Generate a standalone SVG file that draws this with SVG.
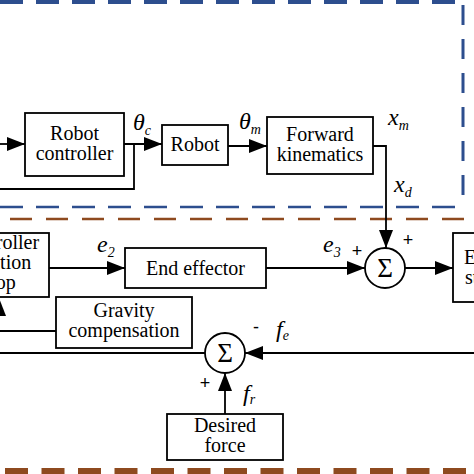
<svg xmlns="http://www.w3.org/2000/svg" width="474" height="474" viewBox="0 0 474 474">
<style>
.box{fill:#fff;stroke:#000;stroke-width:1.8}
.ln{fill:none;stroke:#000;stroke-width:1.8}
.t{font-family:'Liberation Serif','Times New Roman',serif;font-size:20px;text-anchor:middle;fill:#000}
.m{font-family:'Liberation Serif','Times New Roman',serif;font-style:italic;font-size:24px;fill:#000}
.s{font-size:14px}
.pm{font-family:'Liberation Sans',Arial,sans-serif;font-size:18px;text-anchor:middle;fill:#000}
.sig{font-family:'Liberation Serif','Times New Roman',serif;font-size:27px;text-anchor:middle;fill:#000}
.blue{fill:none;stroke:#2d4e8e;stroke-dasharray:23 13}
.brown{fill:none;stroke:#8e4a1f;stroke-dasharray:23 13}
</style>
<defs>
<marker id="ah" markerUnits="userSpaceOnUse" markerWidth="20" markerHeight="14" refX="18" refY="7" orient="auto">
<path d="M0,0 L18,7 L0,14 Z" fill="#000"/>
</marker>
</defs>
<rect width="474" height="474" fill="#fff"/>
<g id="regions">
<path class="blue" d="M0,1.5 H463" stroke-width="5"/>
<path class="blue" d="M463,5 V203" stroke-width="3" style="stroke-dasharray:20 14"/>
<path class="blue" d="M0,207 H463" stroke-width="2.5"/>
<path class="brown" d="M0,219 H474" stroke-width="2.5" style="stroke-dasharray:22 14;stroke-dashoffset:-10"/>
<path class="brown" d="M5,471 H474" stroke-width="6" style="stroke-dasharray:23 13.5"/>
</g>
<g id="connectors">
<path class="ln" d="M0,144 H25" marker-end="url(#ah)"/>
<path class="ln" d="M124,144 H162" marker-end="url(#ah)"/>
<path class="ln" d="M134,144 V189 H0"/>
<path class="ln" d="M228,146 H267" marker-end="url(#ah)"/>
<path class="ln" d="M373,146 H386 V248" marker-end="url(#ah)"/>
<path class="ln" d="M49,268 H125" marker-end="url(#ah)"/>
<path class="ln" d="M266,268 H365" marker-end="url(#ah)"/>
<path class="ln" d="M405,268 H453" marker-end="url(#ah)"/>
<path class="ln" d="M-1,331 V298" marker-end="url(#ah)"/>
<path class="ln" d="M56,331 H0"/>
<path class="ln" d="M205,353 H0"/>
<path class="ln" d="M474,353 H245" marker-end="url(#ah)"/>
<path class="ln" d="M225,414 V373" marker-end="url(#ah)"/>
</g>
<g id="robot-controller">
<rect class="box" x="25" y="113" width="99" height="63"/>
<text class="t" x="74.5" y="140">Robot</text>
<text class="t" x="74.5" y="160">controller</text>
</g>
<g id="robot">
<rect class="box" x="162" y="125" width="66" height="40"/>
<text class="t" x="195" y="151">Robot</text>
</g>
<g id="forward-kinematics">
<rect class="box" x="267" y="117" width="106" height="57"/>
<text class="t" x="320" y="141">Forward</text>
<text class="t" x="320" y="161">kinematics</text>
</g>
<g id="controller-loop">
<rect class="box" x="-60" y="233" width="109" height="64"/>
<text class="t" x="-2" y="249">Controller</text>
<text class="t" x="-1" y="269">position</text>
<text class="t" x="-2" y="289">loop</text>
</g>
<g id="end-effector">
<rect class="box" x="125" y="248" width="141" height="40"/>
<text class="t" x="195.5" y="275">End effector</text>
</g>
<g id="sum1">
<circle class="box" cx="385" cy="268" r="20"/>
<text class="sig" x="385" y="277">Σ</text>
</g>
<g id="right-block">
<rect class="box" x="453" y="233" width="60" height="69"/>
<text class="t" x="464" y="264" style="text-anchor:start">Environment</text>
<text class="t" x="465" y="284" style="text-anchor:start">stiffness</text>
</g>
<g id="gravity-compensation">
<rect class="box" x="56" y="297" width="136" height="51"/>
<text class="t" x="124" y="317">Gravity</text>
<text class="t" x="124" y="337">compensation</text>
</g>
<g id="sum2">
<circle class="box" cx="225" cy="353" r="20"/>
<text class="sig" x="225" y="362">Σ</text>
</g>
<g id="desired-force">
<rect class="box" x="167" y="414" width="116" height="46"/>
<text class="t" x="225" y="432">Desired</text>
<text class="t" x="225" y="452">force</text>
</g>
<g id="labels">
<text class="m" x="133" y="130">θ<tspan class="s" dy="5">c</tspan></text>
<text class="m" x="239" y="129">θ<tspan class="s" dy="5">m</tspan></text>
<text class="m" x="388" y="125">x<tspan class="s" dy="5">m</tspan></text>
<text class="m" x="394" y="192">x<tspan class="s" dy="5">d</tspan></text>
<text class="m" x="97" y="252">e<tspan class="s" dy="5">2</tspan></text>
<text class="m" x="323" y="252">e<tspan class="s" dy="5">3</tspan></text>
<text class="m" x="276" y="337">f<tspan class="s" dy="3">e</tspan></text>
<text class="m" x="243" y="401">f<tspan class="s" dy="3">r</tspan></text>
<text class="pm" x="357" y="257">+</text>
<text class="pm" x="408" y="246">+</text>
<text class="pm" x="256" y="333">-</text>
<text class="pm" x="205" y="389">+</text>
</g>
</svg>
